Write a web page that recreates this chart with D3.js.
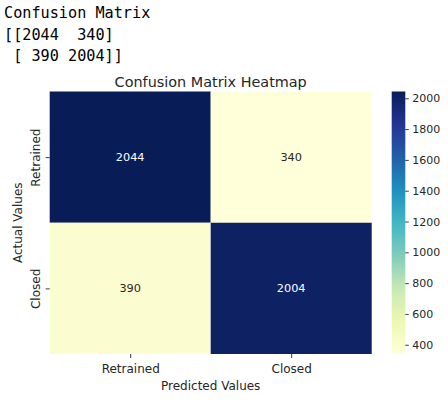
<!DOCTYPE html>
<html>
<head>
<meta charset="utf-8">
<script src="https://cdn.jsdelivr.net/npm/d3@7"></script>
<style>
  html, body { margin: 0; padding: 0; background: #fff; }
  svg { display: block; }
</style>
</head>
<body>
<svg id="chart" width="448" height="403"></svg>
<script>
// ---- data ----
const rowLabels = ["Retrained", "Closed"];   // actual
const colLabels = ["Retrained", "Closed"];   // predicted
const matrix = [
  [2044, 340],
  [390, 2004]
];
const colorbarTicks = [400, 600, 800, 1000, 1200, 1400, 1600, 1800, 2000];
const ylgnbu = ["#ffffd9","#edf8b1","#c7e9b4","#7fcdbb","#41b6c4","#1d91c0","#225ea8","#253494","#081d58"];

const svg = d3.select("#chart");
const sans = "DejaVu Sans, sans-serif";
const mono = "DejaVu Sans Mono, monospace";
const textColor = "#262626";

// ---- printed numpy-style output ----
const flat = matrix.flat();
const w = d3.max(flat, d => String(d).length);
const pad = v => String(v).padStart(w, " ");
const lines = ["Confusion Matrix"].concat(matrix.map((row, i) =>
  (i === 0 ? "[[" : " [") + row.map(pad).join(" ") + (i === matrix.length - 1 ? "]]" : "]")
));
const lineY = [18.3, 39.6, 61];
svg.selectAll("text.out").data(lines).join("text")
  .attr("class", "out")
  .attr("x", 4)
  .attr("y", (d, i) => lineY[i])
  .attr("font-family", mono)
  .attr("font-size", 15.2)
  .attr("fill", "#000")
  .attr("xml:space", "preserve")
  .style("white-space", "pre")
  .text(d => d);

// ---- heatmap ----
const plot = { x0: 49.7, x1: 371.7, y0: 91.5, y1: 354 };
const x = d3.scaleBand().domain(colLabels.map((d, i) => i)).range([plot.x0, plot.x1]);
const y = d3.scaleBand().domain(rowLabels.map((d, i) => i)).range([plot.y0, plot.y1]);
const vmin = d3.min(flat), vmax = d3.max(flat);
const color = d3.scaleLinear()
  .domain(d3.range(ylgnbu.length).map(i => vmin + (vmax - vmin) * i / (ylgnbu.length - 1)))
  .range(ylgnbu)
  .interpolate(d3.interpolateRgb);

const cells = [];
matrix.forEach((row, r) => row.forEach((v, c) => cells.push({ r, c, v })));

svg.append("g").selectAll("rect").data(cells).join("rect")
  .attr("x", d => x(d.c))
  .attr("y", d => y(d.r))
  .attr("width", x.bandwidth())
  .attr("height", y.bandwidth())
  .attr("fill", d => color(d.v));

svg.append("g").selectAll("text").data(cells).join("text")
  .attr("x", d => x(d.c) + x.bandwidth() / 2)
  .attr("y", d => y(d.r) + y.bandwidth() / 2)
  .attr("dy", "0.36em")
  .attr("text-anchor", "middle")
  .attr("font-family", sans)
  .attr("font-size", 11.3)
  .attr("fill", d => ((d.v - vmin) / (vmax - vmin) > 0.5 ? "#ffffff" : textColor))
  .text(d => d.v);

// axes
const xAxis = d3.axisBottom(d3.scalePoint().domain(colLabels.map((d, i) => i)).range([x(0) + x.bandwidth() / 2, x(1) + x.bandwidth() / 2]))
  .tickFormat(i => colLabels[i]).tickSize(4).tickPadding(3.5);
const gx = svg.append("g").attr("transform", `translate(0,${plot.y1})`).call(xAxis);
gx.select(".domain").remove();
gx.selectAll("line").attr("stroke", textColor).attr("stroke-width", 0.9);
gx.selectAll("text").attr("font-family", sans).attr("font-size", 12).attr("fill", textColor)
  .attr("dy", null).attr("y", 19);

const yAxis = d3.axisLeft(d3.scalePoint().domain(rowLabels.map((d, i) => i)).range([y(0) + y.bandwidth() / 2, y(1) + y.bandwidth() / 2]))
  .tickFormat(i => rowLabels[i]).tickSize(4).tickPadding(3.5);
const gy = svg.append("g").attr("transform", `translate(${plot.x0},0)`).call(yAxis);
gy.select(".domain").remove();
gy.selectAll("line").attr("stroke", textColor).attr("stroke-width", 0.9);
gy.selectAll("text")
  .attr("font-family", sans).attr("font-size", 12).attr("fill", textColor)
  .attr("x", null).attr("dy", null)
  .attr("text-anchor", "middle")
  .attr("transform", "translate(-9.5,0) rotate(-90)");

// title & labels
svg.append("text")
  .attr("x", (plot.x0 + plot.x1) / 2).attr("y", 87.3)
  .attr("text-anchor", "middle")
  .attr("font-family", sans).attr("font-size", 14.4).attr("fill", textColor)
  .text("Confusion Matrix Heatmap");

svg.append("text")
  .attr("x", (plot.x0 + plot.x1) / 2).attr("y", 389.5)
  .attr("text-anchor", "middle")
  .attr("font-family", sans).attr("font-size", 12).attr("fill", textColor)
  .text("Predicted Values");

svg.append("text")
  .attr("transform", `translate(21.5,${(plot.y0 + plot.y1) / 2}) rotate(-90)`)
  .attr("text-anchor", "middle")
  .attr("font-family", sans).attr("font-size", 12).attr("fill", textColor)
  .text("Actual Values");

// ---- colorbar ----
const cb = { x0: 391.7, x1: 405.3, y0: 91.5, y1: 354 };
const cbScale = d3.scaleLinear().domain([vmin, vmax]).range([cb.y1, cb.y0]);
const defs = svg.append("defs");
const grad = defs.append("linearGradient").attr("id", "cbgrad")
  .attr("x1", 0).attr("y1", 1).attr("x2", 0).attr("y2", 0);
grad.selectAll("stop").data(d3.range(0, 1.0001, 0.02)).join("stop")
  .attr("offset", d => d)
  .attr("stop-color", d => color(vmin + d * (vmax - vmin)));
svg.append("rect")
  .attr("x", cb.x0).attr("y", cb.y0)
  .attr("width", cb.x1 - cb.x0).attr("height", cb.y1 - cb.y0)
  .attr("fill", "url(#cbgrad)");

const cbAxis = d3.axisRight(cbScale).tickValues(colorbarTicks).tickFormat(d3.format("d"))
  .tickSize(3.5).tickPadding(3.5);
const gcb = svg.append("g").attr("transform", `translate(${cb.x1},0)`).call(cbAxis);
gcb.select(".domain").remove();
gcb.selectAll("line").attr("stroke", textColor).attr("stroke-width", 0.9);
gcb.selectAll("text").attr("font-family", sans).attr("font-size", 11).attr("fill", textColor);
</script>
</body>
</html>
